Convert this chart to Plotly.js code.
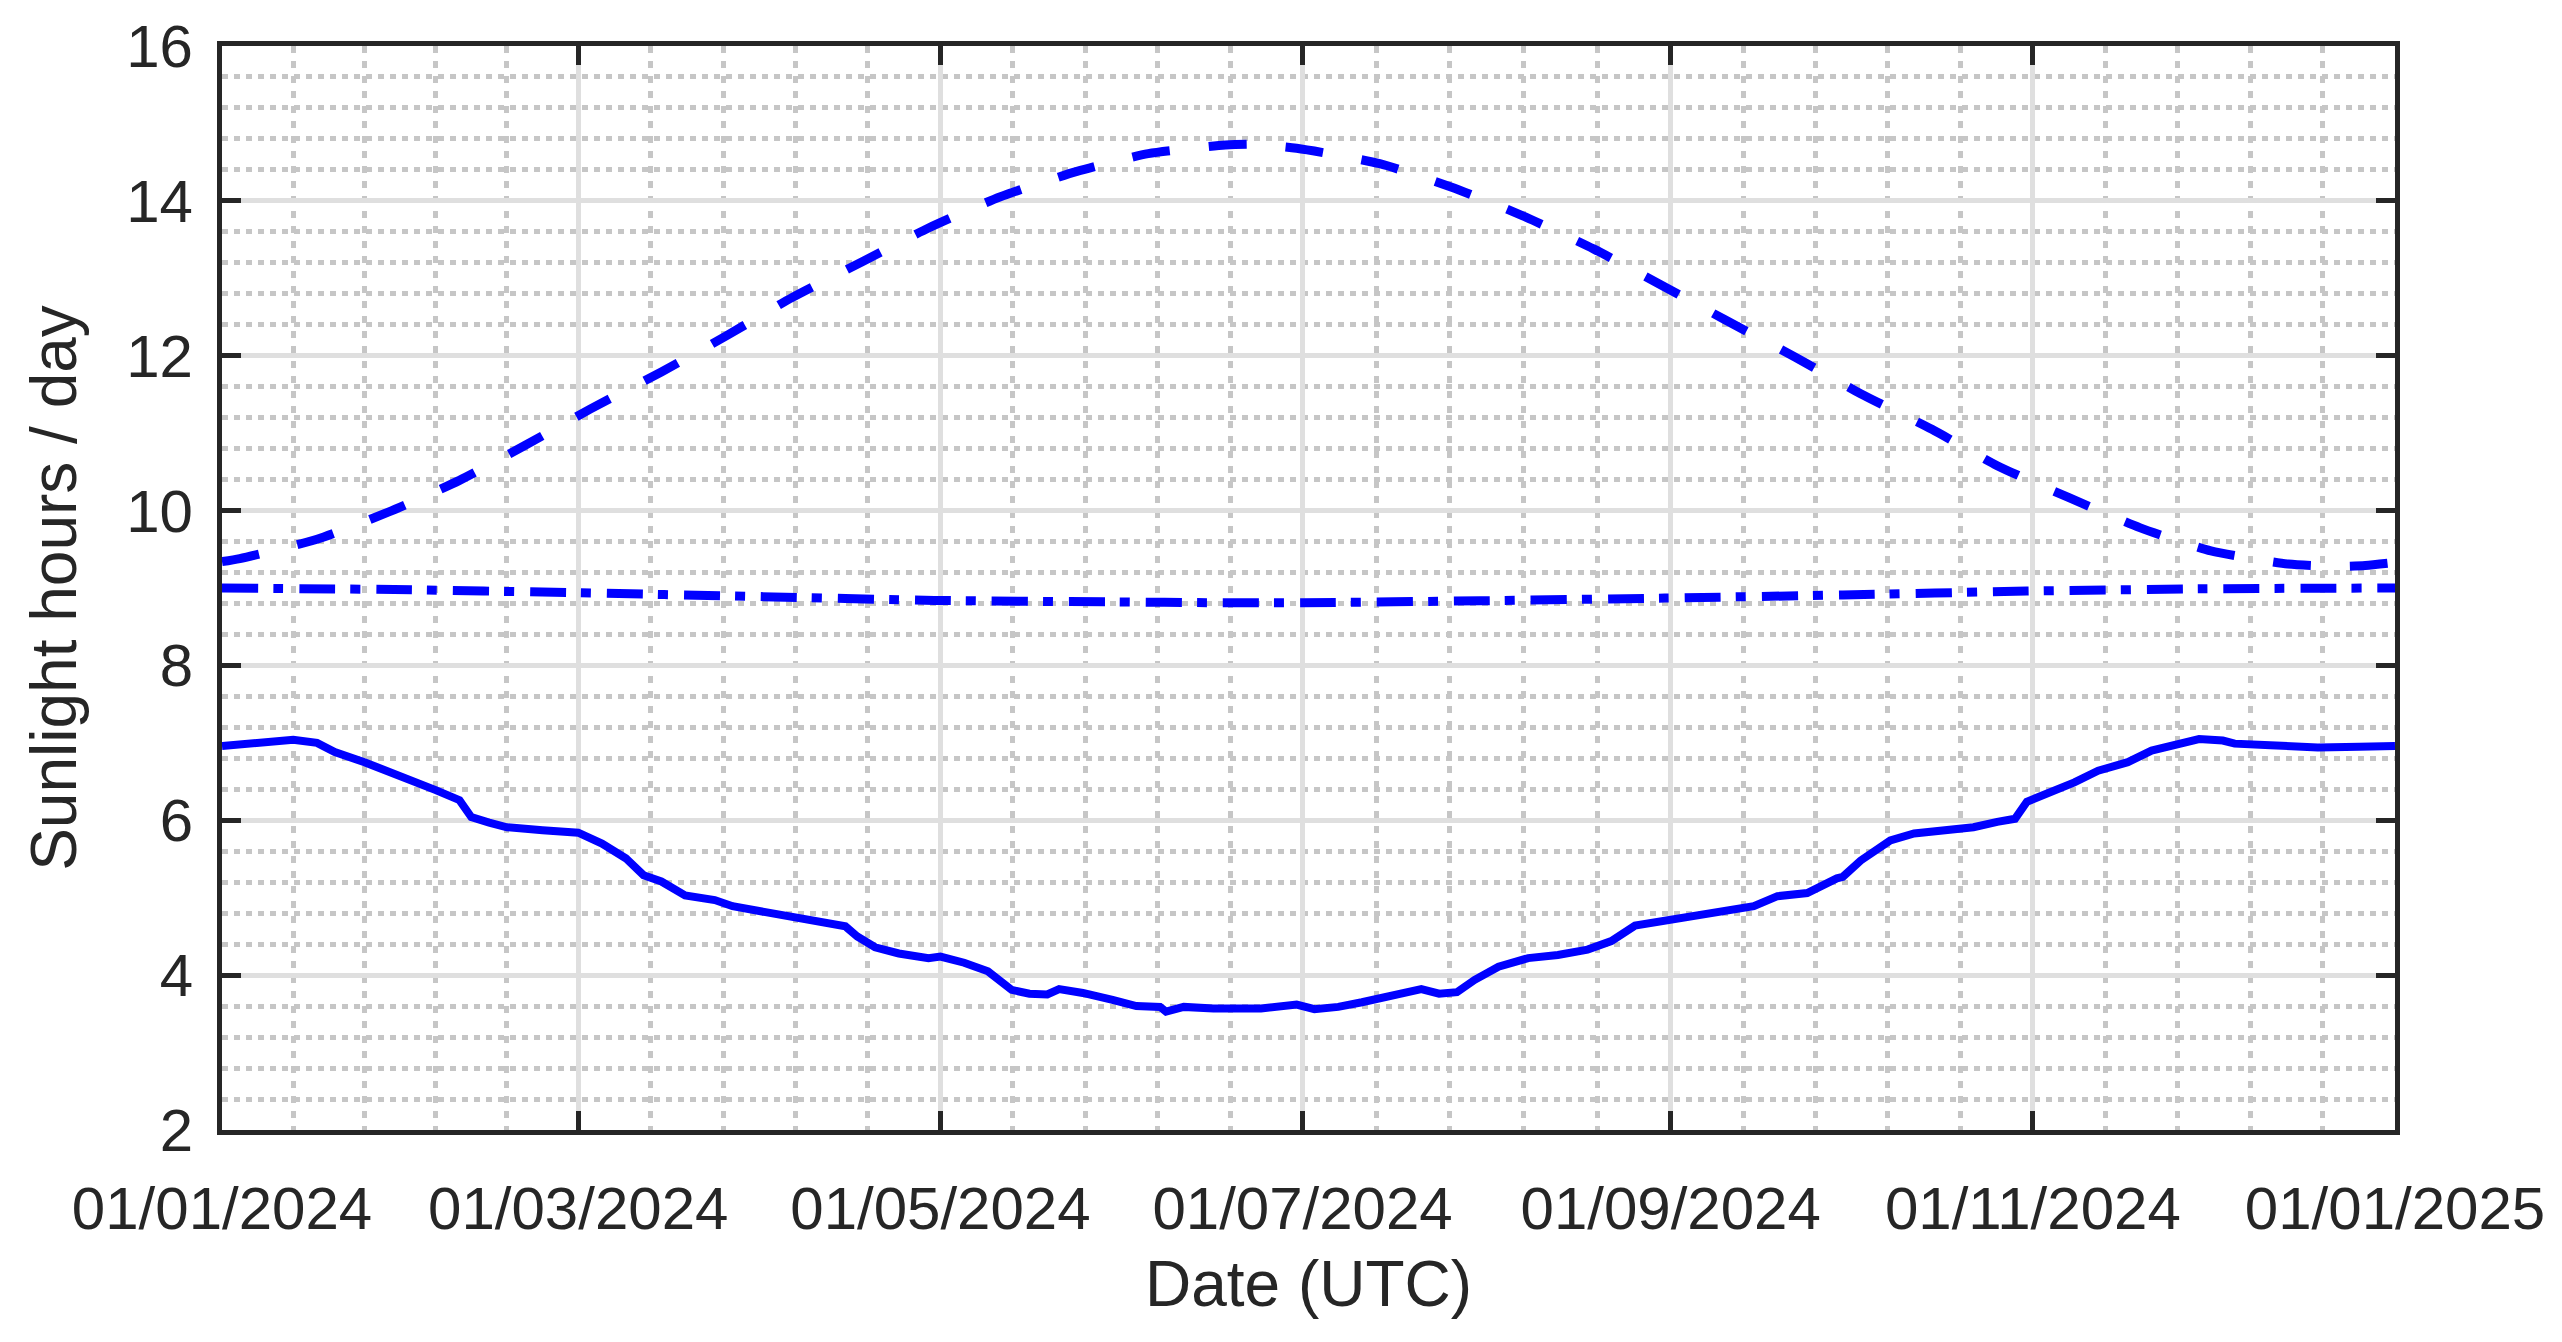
<!DOCTYPE html>
<html>
<head>
<meta charset="utf-8">
<script src="https://cdn.plot.ly/plotly-3.0.1.min.js"></script>
<style>
html,body{margin:0;padding:0;background:#ffffff;}
#chart{width:2562px;height:1342px;}
</style>
</head>
<body>
<div id="chart"></div>
<script>
// ---------- data ----------
// x values are day offsets from 01/01/2024
const majorTickDates = ['2024-01-01','2024-03-01','2024-05-01','2024-07-01','2024-09-01','2024-11-01','2025-01-01'];
const majorTickText  = ['01/01/2024','01/03/2024','01/05/2024','01/07/2024','01/09/2024','01/11/2024','01/01/2025'];

// dashed series (upper)
const dashedDay   = [0, 3, 16, 28, 40, 51, 62, 74, 85, 96, 108, 119, 131, 144, 156, 169, 174, 181, 195, 207, 219, 231, 242, 253, 265, 276, 288, 299, 311, 323, 335, 348, 356, 361, 366];
const dashedHours = [9.34, 9.38, 9.63, 9.98, 10.39, 10.84, 11.31, 11.79, 12.26, 12.75, 13.22, 13.65, 14.05, 14.38, 14.61, 14.72, 14.73, 14.68, 14.48, 14.18, 13.81, 13.38, 12.93, 12.47, 11.98, 11.51, 11.05, 10.58, 10.17, 9.78, 9.48, 9.31, 9.28, 9.29, 9.33];

// dash-dot series (middle)
const dashDotDay   = [0, 29, 59, 90, 120, 151, 167, 182, 212, 243, 273, 304, 334, 366];
const dashDotHours = [9.00, 8.98, 8.94, 8.89, 8.84, 8.82, 8.81, 8.81, 8.835, 8.87, 8.91, 8.96, 8.99, 9.00];

// solid series (lower)
const solidDay   = [0, 6, 12, 16, 19, 24, 30, 36, 40, 42, 45, 48, 54, 60, 64, 68, 71, 74, 78, 83, 86, 92, 96, 101, 105, 107, 110, 114, 119, 121, 125, 129, 131, 133, 136, 139, 141, 145, 150, 154, 158, 159, 162, 167, 175, 181, 184, 188, 192, 196, 202, 205, 208, 211, 215, 220, 225, 230, 234, 238, 244, 251, 258, 262, 267, 272, 273, 276, 281, 285, 290, 295, 299, 302, 304, 308, 312, 316, 321, 325, 330, 333, 337, 339, 345, 353, 360, 366];
const solidHours = [6.96, 7.00, 7.04, 7.00, 6.88, 6.75, 6.58, 6.39, 6.26, 6.04, 5.97, 5.91, 5.87, 5.84, 5.70, 5.51, 5.29, 5.21, 5.03, 4.97, 4.89, 4.80, 4.76, 4.69, 4.63, 4.50, 4.36, 4.28, 4.22, 4.24, 4.16, 4.05, 3.94, 3.81, 3.76, 3.75, 3.82, 3.77, 3.68, 3.60, 3.59, 3.53, 3.59, 3.57, 3.57, 3.62, 3.56, 3.59, 3.65, 3.72, 3.82, 3.76, 3.78, 3.94, 4.11, 4.22, 4.26, 4.33, 4.44, 4.64, 4.72, 4.80, 4.89, 5.02, 5.06, 5.25, 5.27, 5.48, 5.74, 5.83, 5.87, 5.91, 5.98, 6.02, 6.24, 6.36, 6.49, 6.64, 6.75, 6.90, 7.01, 7.05, 7.03, 6.99, 6.97, 6.94, 6.95, 6.96];

// ---------- helpers ----------
const DAY_MS = 86400000;
const START_MS = Date.UTC(2024, 0, 1);
function dayToDate(d) {
  return new Date(START_MS + d * DAY_MS).toISOString().slice(0, 10);
}
function fmt(ms) {
  return new Date(ms).toISOString().replace('T', ' ').replace('Z', '');
}
// minor grid: 4 evenly spaced lines between consecutive major ticks
const minorX = [];
for (let i = 0; i < majorTickDates.length - 1; i++) {
  const a = Date.parse(majorTickDates[i] + 'T00:00:00Z');
  const b = Date.parse(majorTickDates[i + 1] + 'T00:00:00Z');
  for (let k = 1; k < 5; k++) minorX.push(fmt(a + (b - a) * k / 5));
}

const ink = '#262626';
const blue = '#0000ff';

const traces = [
  {
    x: dashedDay.map(dayToDate), y: dashedHours, type: 'scatter', mode: 'lines',
    line: {color: blue, width: 9, dash: '38px,39px', shape: 'spline', smoothing: 0.6},
    hoverinfo: 'skip'
  },
  {
    x: dashDotDay.map(dayToDate), y: dashDotHours, type: 'scatter', mode: 'lines',
    line: {color: blue, width: 9, dash: '36px,15px,10px,16px', shape: 'spline', smoothing: 0.6},
    hoverinfo: 'skip'
  },
  {
    x: solidDay.map(dayToDate), y: solidHours, type: 'scatter', mode: 'lines',
    line: {color: blue, width: 8},
    hoverinfo: 'skip'
  }
];

const layout = {
  width: 2562, height: 1342, autosize: false,
  margin: {l: 222, r: 167, t: 46, b: 212, pad: 0},
  paper_bgcolor: '#ffffff', plot_bgcolor: '#ffffff',
  showlegend: false,
  font: {family: '"Liberation Sans", Arial, Helvetica, sans-serif', size: 60, color: ink},
  xaxis: {
    type: 'date',
    range: ['2024-01-01', '2025-01-01'],
    tickmode: 'array', tickvals: majorTickDates, ticktext: majorTickText,
    ticks: 'inside', ticklen: 19, tickwidth: 5, tickcolor: ink,
    showline: true, linewidth: 5, linecolor: ink, mirror: 'ticks',
    showgrid: true, gridcolor: '#dfdfdf', gridwidth: 5,
    zeroline: false,
    tickfont: {size: 60, color: ink},
    ticklabelstandoff: 22,
    minor: {tickmode: 'array', tickvals: minorX, ticks: '', showgrid: true,
            gridcolor: '#c6c6c6', gridwidth: 5, griddash: '7px,8px'},
    title: {text: 'Date (UTC)', font: {size: 64, color: ink}, standoff: 22},
    automargin: false
  },
  yaxis: {
    range: [2, 16],
    tickmode: 'linear', tick0: 2, dtick: 2,
    ticks: 'inside', ticklen: 19, tickwidth: 5, tickcolor: ink,
    showline: true, linewidth: 5, linecolor: ink, mirror: 'ticks',
    showgrid: true, gridcolor: '#dfdfdf', gridwidth: 5,
    zeroline: false,
    tickfont: {size: 60, color: ink},
    ticklabelstandoff: 12,
    minor: {tick0: 2, dtick: 0.4, ticks: '', showgrid: true,
            gridcolor: '#c6c6c6', gridwidth: 5, griddash: '6px,6px'},
    title: {text: 'Sunlight hours / day', font: {size: 64, color: ink}, standoff: 30},
    automargin: false
  }
};

Plotly.newPlot('chart', traces, layout, {staticPlot: true, displayModeBar: false});
</script>
</body>
</html>
